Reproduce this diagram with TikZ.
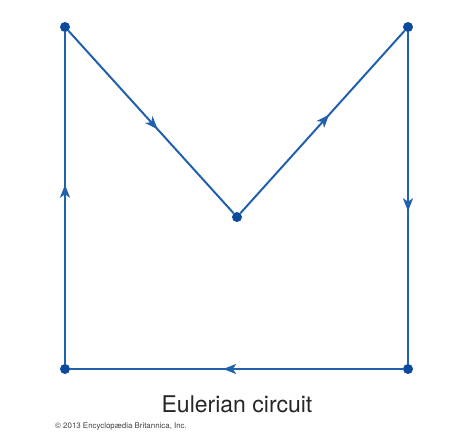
\documentclass[tikz,border=0pt]{standalone}
\usepackage{fontspec}
\setmainfont{TeX Gyre Heros}
\usetikzlibrary{arrows.meta}
\usetikzlibrary{decorations.markings}
\definecolor{edgeblue}{HTML}{2160AA}
\definecolor{dotblue}{HTML}{0B4A9C}
\tikzset{
    vertex/.style = {circle, fill = dotblue, inner sep = 0pt, minimum size = 10},
    edge/.style = {draw = edgeblue, line width = 2,
        postaction = {decorate},
        decoration = {markings, mark = at position 0.54 with {\arrow[edgeblue]{Stealth[length = 13, width = 10, inset = 3.5]}}}}
}

\begin{document}
\begin{tikzpicture}[x = 1pt, y = -1pt]
        \useasboundingbox (0, 0) rectangle (474, 433);
        \node[vertex] (topleft) at (65, 27) {};
        \node[vertex] (topright) at (408, 27) {};
        \node[vertex] (middle) at (237, 217) {};
        \node[vertex] (bottomleft) at (65, 369) {};
        \node[vertex] (bottomright) at (408, 369) {};
        \draw[edge] (topleft) -- (middle);
        \draw[edge] (middle) -- (topright);
        \draw[edge] (topright) -- (bottomright);
        \draw[edge] (bottomright) -- (bottomleft);
        \draw[edge] (bottomleft) -- (topleft);
        \node[text = black!85, font = \fontsize{23}{26}\selectfont, anchor = base] (caption) at (237, 412) {Eulerian circuit};
        \node[text = black!75, font = \fontsize{7.9}{9}\selectfont, anchor = base west, inner sep = 0pt] (copyright) at (55, 428) {\textcopyright\ 2013 Encyclopædia Britannica, Inc.};
    \end{tikzpicture}
\end{document}
